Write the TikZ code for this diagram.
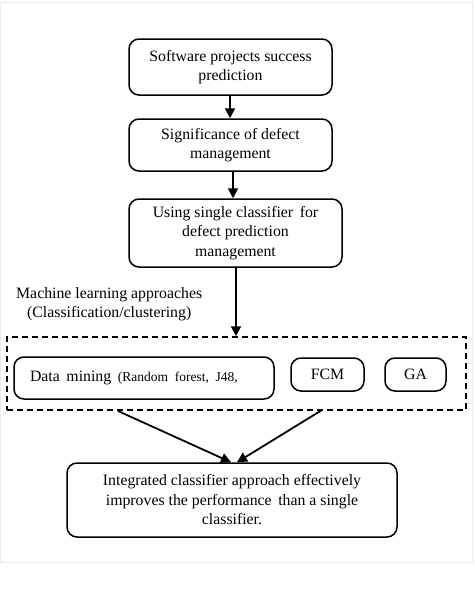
\documentclass[tikz,border=0pt]{standalone}
\usepackage{fontspec}
\setmainfont{Liberation Serif}
\usetikzlibrary{arrows.meta}
\begin{document}
\begin{tikzpicture}[x=1pt,y=-1pt,
  stepbox/.style={draw, line width=1.5pt, rounded corners=10pt, align=center, inner sep=0pt},
  flowarrow/.style={line width=1.8pt, -{Triangle[length=10pt,width=10pt]}},
  txt/.style={font=\fontsize{15.8}{19.5}\selectfont}]
\useasboundingbox (0,0) rectangle (474,589);
\fill[white] (0,0) rectangle (474,589);
\draw[line width=1pt, black!8] (0.5,2) rectangle (472,562);
\node[stepbox, txt, minimum width=203pt, minimum height=56pt] (b1) at (230.5,67) {Software projects success\\prediction};
\node[stepbox, txt, minimum width=203pt, minimum height=52pt] (b2) at (230.5,145) {Significance of defect\\management};
\node[stepbox, txt, minimum width=213pt, minimum height=68pt] (b3) at (235.5,233) {Using single classifier\, for\\defect prediction\\management};
\node[txt, align=center, anchor=north west, inner sep=0pt] (ml) at (16,287) {Machine learning approaches\\(Classification/clustering)};
\node[draw, dashed, line width=1.5pt, dash pattern=on 6pt off 4pt, minimum width=459pt, minimum height=73pt, inner sep=0pt] (grp) at (236.5,373.5) {};
\node[stepbox, minimum width=260pt, minimum height=42pt, text width=228pt, align=left] (dm) at (144,378) {\makebox[209pt][s]{\fontsize{15.8}{19.5}\selectfont Data\ \ mining\ \ {\fontsize{13.5}{16}\selectfont (Random\ \ forest,\ \ J48,}}};
\node[stepbox, txt, minimum width=73pt, minimum height=33pt] (fcm) at (327.5,374.5) {FCM};
\node[stepbox, txt, minimum width=61pt, minimum height=33pt] (ga) at (415.5,374.5) {GA};
\node[stepbox, txt, minimum width=330pt, minimum height=74pt] (res) at (232,500) {Integrated classifier approach effectively\\improves the performance\, than a single\\classifier.};
\coordinate (a1) at (118,411);
\coordinate (a2) at (322,410);
\draw[flowarrow] (b1.south -| 230,0) -- (b2.north -| 230,0);
\draw[flowarrow] (b2.south -| 233,0) -- (b3.north -| 233,0);
\draw[flowarrow] (b3.south -| 236,0) -- (grp.north -| 236,0);
\draw[flowarrow] (a1) -- (res.north -| 231,0);
\draw[flowarrow] (a2) -- (res.north -| 237,0);
\end{tikzpicture}
\end{document}
